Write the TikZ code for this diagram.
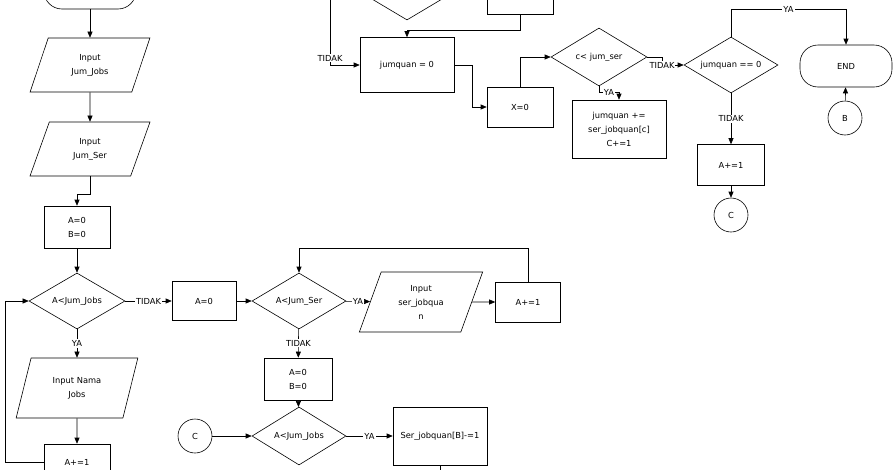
\documentclass[tikz,border=0pt]{standalone}
\usepackage{fontspec}
\setmainfont{DejaVu Sans}
\usetikzlibrary{arrows.meta,shapes.geometric,positioning}
\begin{document}
\begin{tikzpicture}[x=1pt, y=-1pt, >={Triangle[length=6pt,width=5pt]}, line width=0.6pt,
  font=\fontsize{8.3}{14}\selectfont]
	\tikzset{proc/.style={draw, rectangle, inner sep=0, align=center},
	         dec/.style={draw, diamond, inner sep=0, aspect=1.7, align=center},
	         io/.style={draw, trapezium, trapezium left angle=70, trapezium right angle=110, trapezium stretches=true, inner sep=0, align=center},
	         term/.style={draw, rounded corners=18pt, minimum width=92pt, minimum height=42pt},
	         conn/.style={draw, circle, minimum size=34pt, inner sep=0},
	         lab/.style={fill=white, inner sep=1pt}}
	\useasboundingbox (0,0) rectangle (894,469);
	% left column
	\node[term]    (start) at (90,-12) {};
	\node[io, minimum width=120pt, minimum height=54pt] (in1) at (90,65) {Input\\Jum\_Jobs};
	\node[io, minimum width=120pt, minimum height=54pt] (in2) at (90,149) {Input\\Jum\_Ser};
	\node[proc, minimum width=66pt, minimum height=42pt] (init1) at (77,227) {A=0\\B=0};
	\node[dec, minimum width=96pt, minimum height=56pt] (d1) at (77,301) {A<Jum\_Jobs};
	\node[io, minimum width=122pt, minimum height=60pt] (in3) at (77,388) {Input Nama\\Jobs};
	\node[proc, minimum width=66pt, minimum height=36pt] (inc1) at (77,462) {A+=1};
	% middle row
	\node[proc, minimum width=64pt, minimum height=39pt] (a0) at (204,301) {A=0};
	\node[dec, minimum width=94pt, minimum height=56pt] (d2) at (299,301) {A<Jum\_Ser};
	\node[io, minimum width=124pt, minimum height=60pt] (in4) at (421,302) {Input\\ser\_jobqua\\n};
	\node[proc, minimum width=65pt, minimum height=40pt] (inc2) at (528,302) {A+=1};
	\node[proc, minimum width=68pt, minimum height=42pt] (init2) at (298,379) {A=0\\B=0};
	\node[dec, minimum width=94pt, minimum height=58pt] (d3) at (299,436) {A<Jum\_Jobs};
	\node[conn] (c1) at (195,436) {C};
	\node[proc, minimum width=94pt, minimum height=58pt] (dec1) at (440,436) {Ser\_jobquan[B]-=1};
	\coordinate (tail) at (440,475);
	% top right
	\node[dec, minimum width=94pt, minimum height=56pt] (d0) at (407,-8) {};
	\node[proc, minimum width=66pt, minimum height=40pt] (r0) at (520,-6) {};
	\coordinate (top) at (330,-5);
	\node[proc, minimum width=94pt, minimum height=55pt] (jq) at (407,65) {jumquan = 0};
	\node[proc, minimum width=66pt, minimum height=40pt] (x0) at (520,107) {X=0};
	\node[dec, minimum width=96pt, minimum height=58pt] (d4) at (599,57) {c< jum\_ser};
	\node[proc, minimum width=94pt, minimum height=58pt] (add) at (619,129) {jumquan +=\\ser\_jobquan[c]\\C+=1};
	\node[dec, minimum width=94pt, minimum height=56pt] (d5) at (731,65) {jumquan == 0};
	\node[term]    (end) at (846,66) {END};
	\node[conn] (b1) at (845,118) {B};
	\node[proc, minimum width=67pt, minimum height=41pt] (inc3) at (731,165) {A+=1};
	\node[conn] (c2) at (731,215) {C};

	\draw[->] (start) -- (in1);
	\draw[->] (in1) -- (in2);
	\draw[->] (in2.south) |- (77,194) -- (init1);
	\draw[->] (init1) -- (d1);
	\draw[->] (d1) -- node[lab] {YA} (in3);
	\draw[->] (in3) -- (inc1);
	\draw[->] (inc1.west) -| (5,301) -- (d1);
	\draw[->] (d1) -- node[lab] {TIDAK} (a0);
	\draw[->] (a0) -- (d2);
	\draw[->] (d2) -- node[lab] {YA} (in4);
	\draw[->] (in4) -- (inc2);
	\draw[->] (inc2.north) |- (299,248) -- (d2.north);
	\draw[->] (d2) -- node[lab] {TIDAK} (init2);
	\draw[->] (init2) -- (d3);
	\draw[->] (c1) -- (d3);
	\draw[->] (d3) -- node[lab] {YA} (dec1);
	\draw (dec1) -- (tail);

	\draw[->] (top) |- node[lab, pos=0.45] {TIDAK} (jq.west);
	\draw[->] (r0.south) |- (407,30) -- (jq.north);
	\draw[->] (jq.east) -| (472,107) -- (x0.west);
	\draw[->] (x0.north) |- (d4.west);
	\draw[->] (d4.south) |- (619,92) node[lab, pos=0.75] {YA} -- (add.north);
	\draw[->] (d4.east) -| (662,65) node[lab] {TIDAK} -- (d5.west);
	\draw[->] (d5.north) |- node[lab, pos=0.75] {YA} (846,9) -- (end.north);
	\draw[->] (d5) -- node[lab] {TIDAK} (inc3);
	\draw[->] (inc3) -- (c2);
	\draw[->] (b1) -- (end);
\end{tikzpicture}
\end{document}
